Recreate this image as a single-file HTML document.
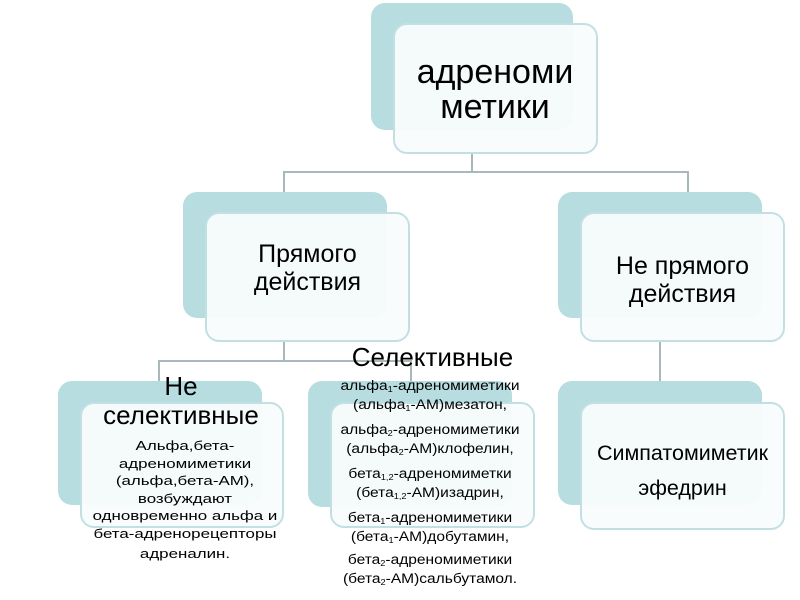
<!DOCTYPE html>
<html><head><meta charset="utf-8"><style>
body{margin:0;width:800px;height:600px;background:#fff;position:relative;overflow:hidden;font-family:"Liberation Sans","DejaVu Sans",sans-serif;color:#000}
.b{position:absolute;background:#b7dde0;border-radius:14px}
.f{position:absolute;background:rgba(248,252,252,0.96);border:2px solid #c2e0e3;border-radius:14px;box-sizing:border-box}
.l{position:absolute;background:#a9b9bb}
.t{position:absolute;text-align:center;white-space:nowrap}
.s{font-size:13.5px;line-height:19px;transform:scaleX(1.15);transform-origin:center}
.s2{font-size:13px;line-height:17.5px;transform:scaleX(1.3);transform-origin:center}
sub{font-size:8px;vertical-align:-2px;line-height:0}
</style></head><body>
<!-- connectors -->
<div class="l" style="left:471px;top:152px;width:2px;height:21px"></div>
<div class="l" style="left:283px;top:171px;width:406px;height:2px"></div>
<div class="l" style="left:283px;top:171px;width:2px;height:22px"></div>
<div class="l" style="left:687px;top:171px;width:2px;height:22px"></div>
<div class="l" style="left:283px;top:340px;width:2px;height:22px"></div>
<div class="l" style="left:158px;top:360px;width:254px;height:2px"></div>
<div class="l" style="left:158px;top:360px;width:2px;height:22px"></div>
<div class="l" style="left:410px;top:360px;width:2px;height:22px"></div>
<div class="l" style="left:659px;top:340px;width:2px;height:42px"></div>

<!-- top -->
<div class="b" style="left:371px;top:3px;width:202px;height:127px"></div>
<div class="f" style="left:393px;top:23px;width:205px;height:131px"></div>
<div class="t" style="left:400px;top:55px;width:190px;font-size:34px;line-height:35px">адреноми<br>метики</div>

<!-- mid left -->
<div class="b" style="left:183px;top:192px;width:204px;height:126px"></div>
<div class="f" style="left:205px;top:212px;width:205px;height:130px"></div>
<div class="t" style="left:205px;top:240px;width:205px;font-size:25px;line-height:28px">Прямого<br>действия</div>

<!-- mid right -->
<div class="b" style="left:558px;top:192px;width:204px;height:126px"></div>
<div class="f" style="left:580px;top:212px;width:205px;height:130px"></div>
<div class="t" style="left:580px;top:252px;width:205px;font-size:25px;line-height:28px">Не прямого<br>действия</div>

<!-- bottom left -->
<div class="b" style="left:58px;top:381px;width:204px;height:124px"></div>
<div class="f" style="left:80px;top:402px;width:204px;height:126px"></div>
<div class="t" style="left:68px;top:372px;width:226px;font-size:26px;line-height:29px">Не<br>селективные</div>
<div class="t s2" style="left:72px;top:437px;width:226px">Альфа,бета-<br>адреномиметики<br>(альфа,бета-АМ),<br>возбуждают<br>одновременно альфа и<br>бета-адренорецепторы</div>
<div class="t s2" style="left:72px;top:545px;width:226px">адреналин.</div>

<!-- bottom mid -->
<div class="b" style="left:308px;top:381px;width:204px;height:126px"></div>
<div class="f" style="left:330px;top:402px;width:205px;height:126px"></div>
<div class="t" style="left:330px;top:342px;width:205px;font-size:26px;line-height:30px">Селективные</div>
<div class="t s" style="left:320px;top:376px;width:220px">альфа<sub>1</sub>-адреномиметики<br>(альфа<sub>1</sub>-АМ)мезатон,</div>
<div class="t s" style="left:320px;top:420px;width:220px">альфа<sub>2</sub>-адреномиметики<br>(альфа<sub>2</sub>-АМ)клофелин,</div>
<div class="t s" style="left:320px;top:464px;width:220px">бета<sub>1,2</sub>-адреномиметки<br>(бета<sub>1,2</sub>-АМ)изадрин,</div>
<div class="t s" style="left:320px;top:508px;width:220px">бета<sub>1</sub>-адреномиметики<br>(бета<sub>1</sub>-АМ)добутамин,</div>
<div class="t s" style="left:320px;top:550px;width:220px">бета<sub>2</sub>-адреномиметики<br>(бета<sub>2</sub>-АМ)сальбутамол.</div>

<!-- bottom right -->
<div class="b" style="left:558px;top:381px;width:204px;height:124px"></div>
<div class="f" style="left:580px;top:402px;width:205px;height:128px"></div>
<div class="t" style="left:580px;top:436px;width:205px;font-size:21.5px;line-height:35px">Симпатомиметик<br>эфедрин</div>
</body></html>
